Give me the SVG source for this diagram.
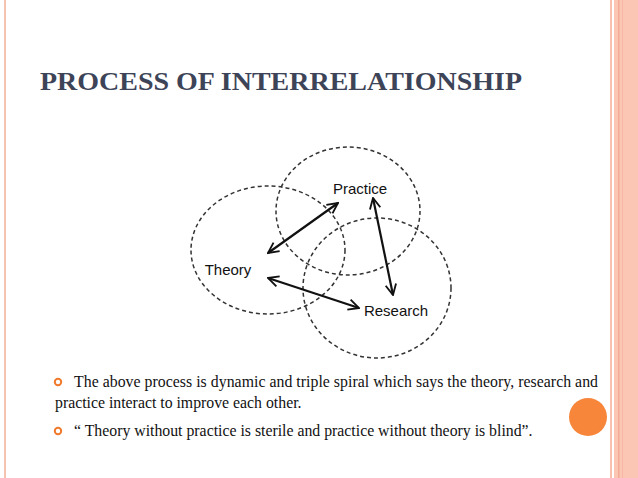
<svg xmlns="http://www.w3.org/2000/svg" width="638" height="478" viewBox="0 0 638 478">
<style>
.ring{fill:none;stroke:#333;stroke-width:1.5;stroke-dasharray:4 3}
.lbl{font-family:"Liberation Sans",Arial,sans-serif;font-size:15px;fill:#111}
.body{font-family:"Liberation Serif","Times New Roman",serif;font-size:15.8px;fill:#111}
.arr{stroke:#111;stroke-width:2.2;fill:none;marker-start:url(#ah);marker-end:url(#ah)}
.bul{fill:none;stroke:#f07a2c;stroke-width:2}
</style>
<defs>
<marker id="ah" viewBox="0 0 10 10" refX="9" refY="5" markerWidth="6" markerHeight="6" orient="auto-start-reverse" markerUnits="strokeWidth">
<path d="M1,1 L9,5 L1,9" fill="none" stroke="#111" stroke-width="1.4"/>
</marker>
</defs>
<rect width="638" height="478" fill="#fff"/>
<rect x="4" y="0" width="2" height="478" fill="#f6c3b2"/>
<rect x="610" y="0" width="2" height="478" fill="#f8c0ad"/>
<rect x="614" y="0" width="24" height="478" fill="#fbc6b4"/>
<rect x="618" y="0" width="1.5" height="478" fill="#f3ab95"/>
<rect x="622" y="0" width="1" height="478" fill="#f5b7a3"/>
<text x="40" y="90" font-family="Liberation Serif,'Times New Roman',serif" font-weight="bold" font-size="26" fill="#3d4458" textLength="482" lengthAdjust="spacingAndGlyphs">PROCESS OF INTERRELATIONSHIP</text>
<g id="theory"><ellipse class="ring" cx="268" cy="250" rx="77" ry="64"/><text class="lbl" x="228" y="275" text-anchor="middle">Theory</text></g>
<g id="practice"><ellipse class="ring" cx="348" cy="211" rx="72" ry="64"/><text class="lbl" x="360" y="194" text-anchor="middle">Practice</text></g>
<g id="research"><ellipse class="ring" cx="377" cy="288" rx="74" ry="70"/><text class="lbl" x="396" y="316" text-anchor="middle">Research</text></g>
<g id="connectors">
<line class="arr" x1="268" y1="253" x2="338" y2="203"/>
<line class="arr" x1="373" y1="198" x2="393" y2="295"/>
<line class="arr" x1="268" y1="278" x2="359" y2="308"/>
</g>
<g id="text">
<circle class="bul" cx="58" cy="382" r="3.2"/>
<text class="body" x="74" y="387" textLength="524" lengthAdjust="spacing">The above process is dynamic and triple spiral which says the theory, research and</text>
<text class="body" x="55" y="408">practice interact to improve each  other.</text>
<circle class="bul" cx="58" cy="431" r="3.2"/>
<text class="body" x="74" y="436">“ Theory without practice is sterile and practice without theory is blind”.</text>
</g>
<circle cx="588" cy="417" r="19" fill="#f7863a"/>
</svg>
